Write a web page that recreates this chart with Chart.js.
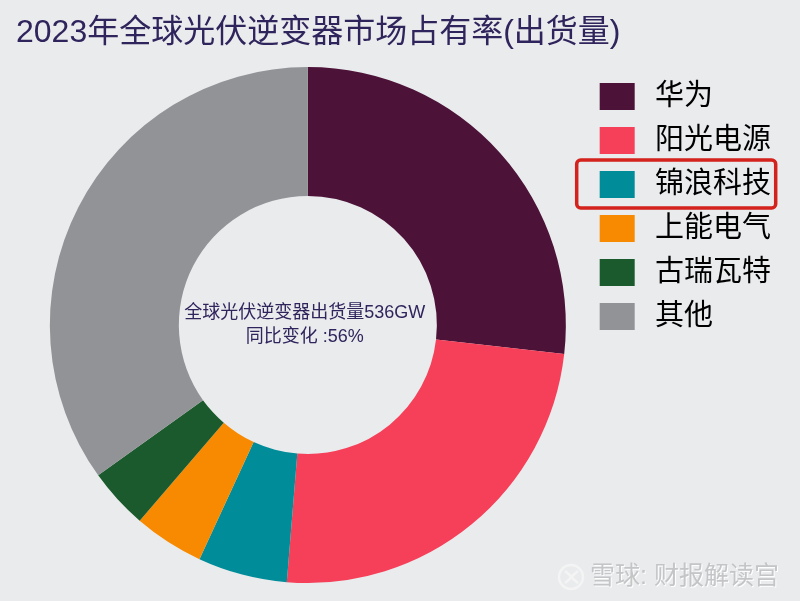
<!DOCTYPE html>
<html>
<head>
<meta charset="utf-8">
<style>
  html, body { margin: 0; padding: 0; background: #e9ebed; }
  #wrap { width: 800px; height: 601px; }
</style>
</head>
<body>
<div id="wrap"><canvas id="shareChart"></canvas></div>
<script src="https://cdn.jsdelivr.net/npm/chart.js@4"></script>
<script>
// データ
const companies = ['华为', '阳光电源', '锦浪科技', '上能电气', '古瑞瓦特', '其他'];
const shares = [26.8, 24.5, 5.6, 4.4, 3.8, 34.9];
const sliceColors = ['#4d1238', '#f63f58', '#008c99', '#f78a00', '#1b5a2c', '#929396'];
const chartTitle = '2023年全球光伏逆变器市场占有率(出货量)';
const centerLines = ['全球光伏逆变器出货量536GW', '同比变化 :56%'];
const highlightIndex = 2;
const watermark = '雪球: 财报解读宫';

const FONT = '"Liberation Sans", "Noto Sans CJK SC", sans-serif';
const INK = '#30245c';

// 中央の文字、赤枠、透かし
const overlayPlugin = {
    id: 'overlay',
    afterLayout(chart) {
        // タイトルだけ左に寄せる
        chart.titleBlock.left = 16;
    },
    afterDraw(chart) {
        const ctx = chart.ctx;
        const arc = chart.getDatasetMeta(0).data[0];

        ctx.save();
        ctx.fillStyle = INK;
        ctx.font = '18px ' + FONT;
        ctx.textAlign = 'center';
        ctx.textBaseline = 'middle';
        ctx.fillText(centerLines[0], arc.x - 3, 313);
        ctx.fillText(centerLines[1], arc.x - 3, 337);

        // 強調枠
        const hit = chart.legend.legendHitBoxes[highlightIndex];
        ctx.strokeStyle = '#d3231c';
        ctx.lineWidth = 3.5;
        ctx.beginPath();
        ctx.roundRect(hit.left - 23, hit.top - 10, 199, 48, 4);
        ctx.stroke();

        // 透かし
        ctx.textAlign = 'left';
        ctx.font = '25px ' + FONT;
        ctx.fillStyle = '#ffffff';
        ctx.fillText(watermark, 591, 578);
        ctx.fillStyle = '#c4c5c7';
        ctx.fillText(watermark, 590, 577);
        ctx.strokeStyle = '#f4f4f4';
        ctx.lineWidth = 2.5;
        ctx.beginPath();
        ctx.arc(571, 577, 12, 0, Math.PI * 2);
        ctx.moveTo(565, 571);
        ctx.lineTo(572, 577);
        ctx.lineTo(565, 583);
        ctx.moveTo(578, 571);
        ctx.lineTo(571, 577);
        ctx.lineTo(578, 583);
        ctx.stroke();
        ctx.restore();
    }
};

new Chart(document.getElementById('shareChart'), {
    type: 'doughnut',
    data: {
        labels: companies,
        datasets: [{ data: shares, backgroundColor: sliceColors, borderWidth: 0 }]
    },
    plugins: [overlayPlugin],
    options: {
        responsive: true,
        maintainAspectRatio: false,
        animation: false,
        cutout: '50%',
        layout: { padding: { left: 31, right: 19, top: 14, bottom: 18 } },
        plugins: {
            tooltip: { enabled: false },
            title: {
                display: true,
                text: chartTitle,
                align: 'start',
                color: INK,
                font: { family: FONT, size: 32, weight: 'normal' },
                padding: { top: 0, bottom: 14.6 }
            },
            legend: {
                position: 'right',
                align: 'start',
                fullSize: false,
                onClick: null,
                labels: {
                    boxWidth: 35,
                    boxHeight: 27,
                    padding: 15,
                    color: INK,
                    font: { family: FONT, size: 29 },
                    generateLabels(chart) {
                        return companies.map((name, i) => ({
                            text: '\u2009' + name,
                            fillStyle: sliceColors[i],
                            strokeStyle: sliceColors[i],
                            lineWidth: 0,
                            index: i
                        }));
                    }
                }
            }
        }
    }
});
</script>
</body>
</html>
